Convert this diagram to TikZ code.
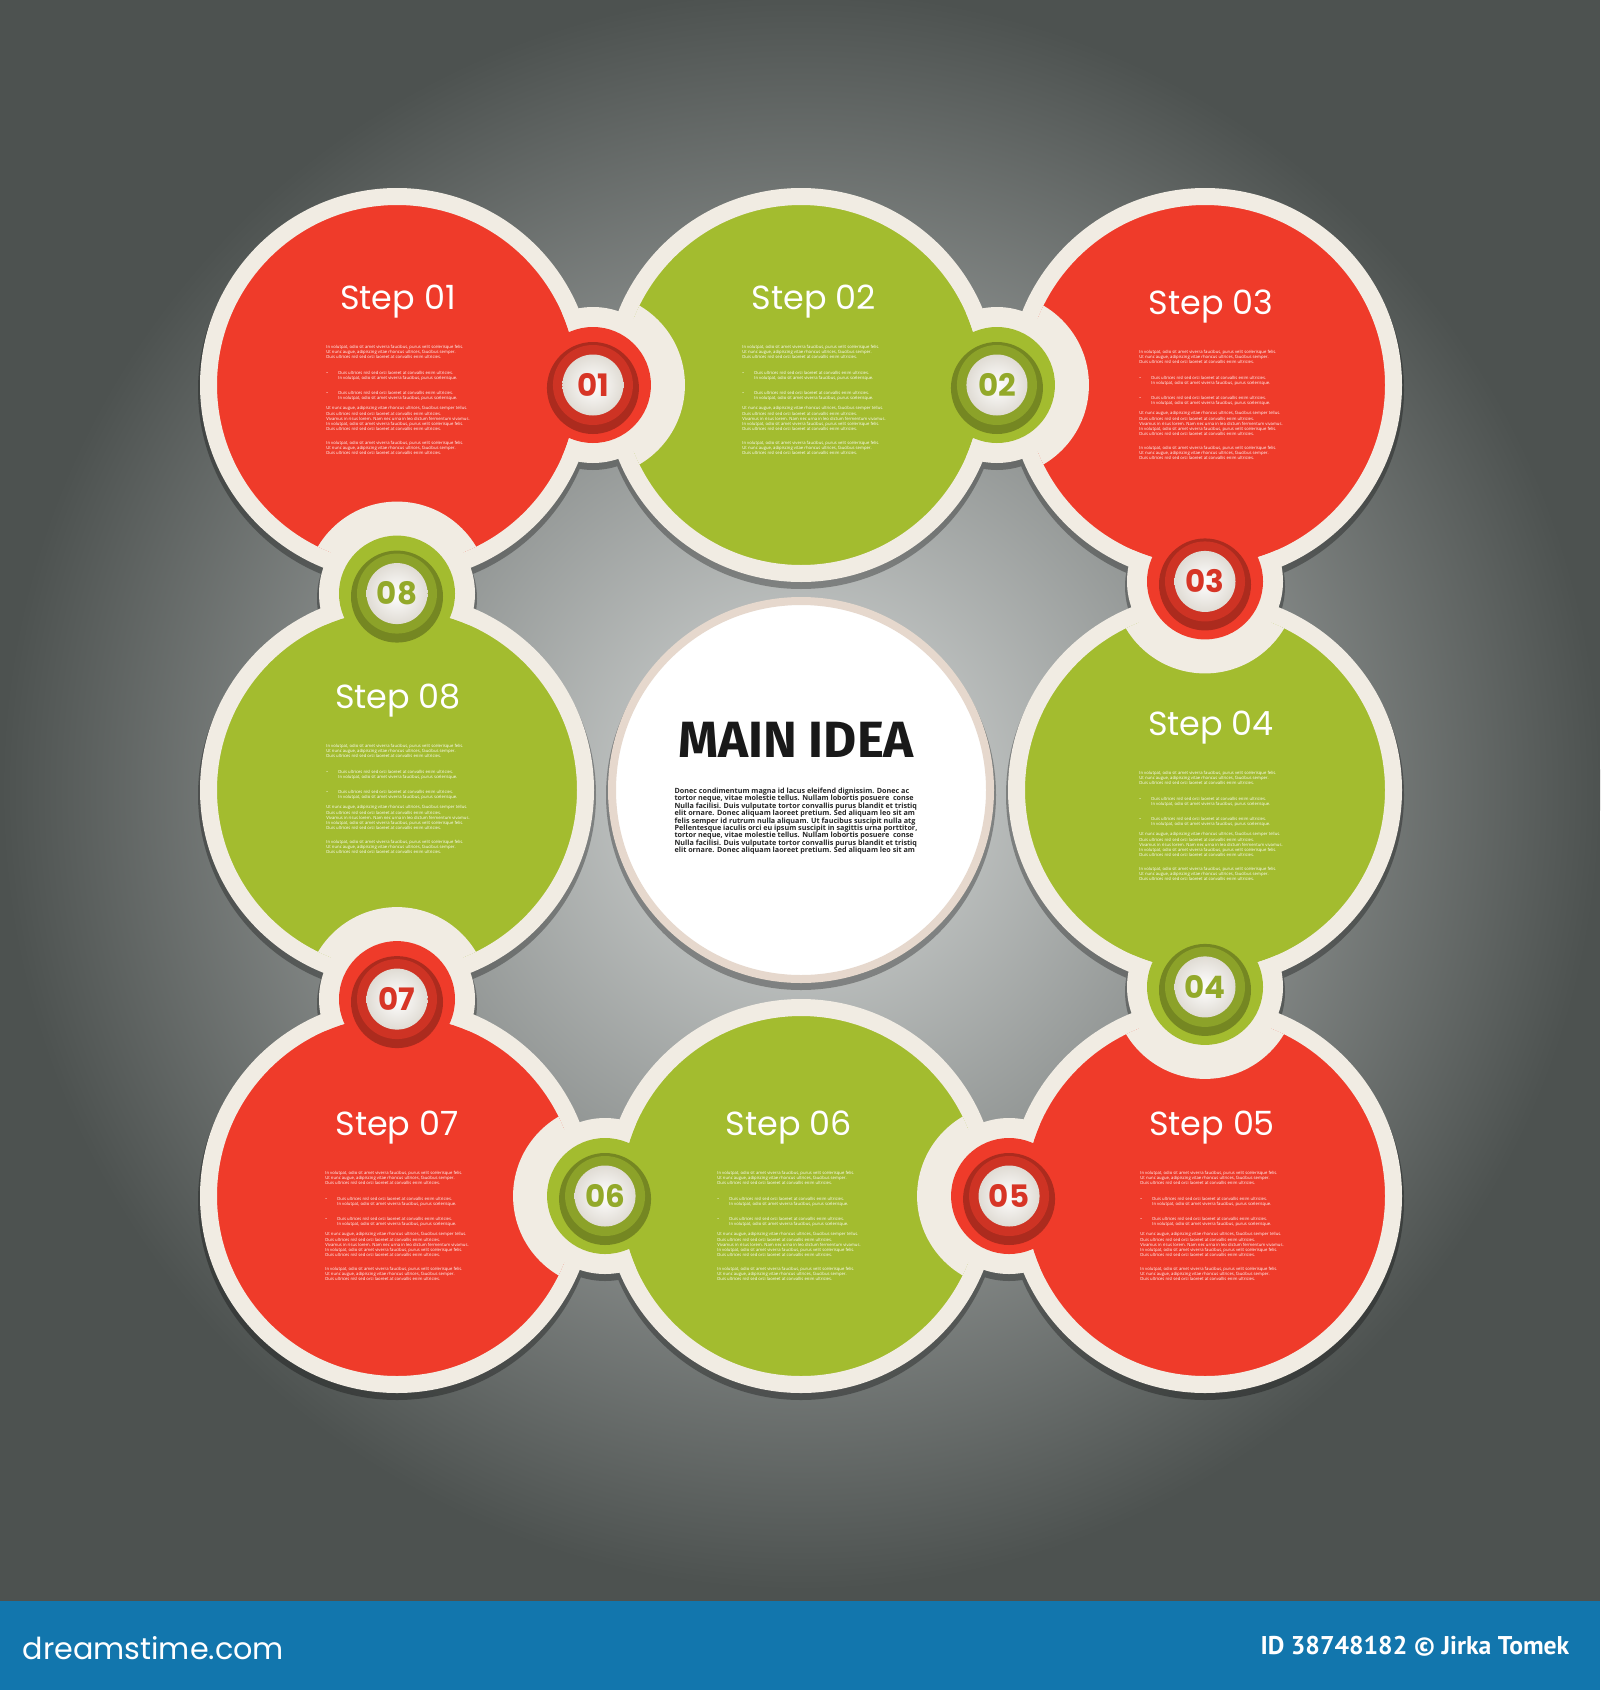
\documentclass[tikz,border=0pt]{standalone}
\usepackage{fontspec}
\setmainfont{Open Sans}
\newfontfamily\titlefont{Poppins}
\newfontfamily\ideafont{Fira Sans}
\newfontfamily\barfont{PT Sans}
\usetikzlibrary{positioning,calc}

\definecolor{bgdark}{HTML}{4D5250}
\definecolor{bglight}{HTML}{D9DCDB}
\definecolor{stepred}{HTML}{EF3B2A}
\definecolor{stepgreen}{HTML}{A3BC2F}
\definecolor{cream}{HTML}{F1ECE3}
\definecolor{rimbeige}{HTML}{E6D8CD}
\definecolor{barblue}{HTML}{1276AD}

\tikzset{
  stepdisc/.style={circle, minimum size=37.7mm, inner sep=0pt, draw=cream, line width=1.7mm},
  steptitle/.style={font=\titlefont\fontsize{9.5}{11}\selectfont, text=white, inner sep=0pt},
  stepbody/.style={font=\fontsize{1.2}{1.45}\selectfont, text=white, align=left, inner sep=0pt},
  badgecore/.style={circle, minimum size=6.1mm, inner sep=0pt, inner color=white, outer color=cream!85!gray, font=\titlefont\bfseries\fontsize{8.8}{9}\selectfont},
  shadowfill/.style={fill=black, opacity=.3},
}

% #1 name, #2 place, #3 owner, #4 neighbour, #5 colour, #6 number
\newcommand{\stepbadge}[6]{%
  \begin{scope}[even odd rule]
    \clip (0,0) rectangle (1600,1690) (#3.center) circle (18mm);
    \fill[cream] (#2) circle (7.8mm);
  \end{scope}
  \begin{scope}
    \clip (#4.center) circle (18mm);
    \fill[cream] (#2) circle (9.2mm);
  \end{scope}
  \fill[#5] (#2) circle (5.8mm);
  \fill[#5!72!black] ($(#2)+(0,3)$) circle (4.6mm);
  \fill[#5!86!black] (#2) circle (4.0mm);
  \node[badgecore, text=#5!90!black] (#1) at (#2) {#6};
}

\newcommand{\stepfiller}{%
In volutpat, odio sit amet viverra faucibus, purus velit scelerisque felis.\\
Ut nunc augue, adipiscing vitae rhoncus ultrices, faucibus semper.\\
Duis ultrices nisl sed orci laoreet at convallis enim ultricies.\\[1.1mm]
\makebox[1.2mm][l]{\textbullet}Duis ultrices nisl sed orci laoreet at convallis enim ultricies.\\
\hspace*{1.2mm}In volutpat, odio sit amet viverra faucibus, purus scelerisque.\\[1mm]
\makebox[1.2mm][l]{\textbullet}Duis ultrices nisl sed orci laoreet at convallis enim ultricies.\\
\hspace*{1.2mm}In volutpat, odio sit amet viverra faucibus, purus scelerisque.\\[0.5mm]
Ut nunc augue, adipiscing vitae rhoncus ultrices, faucibus semper tellus.\\
Duis ultrices nisl sed orci laoreet at convallis enim ultricies.\\
Vivamus in risus lorem. Nam nec urna in leo dictum fermentum vivamus.\\
In volutpat, odio sit amet viverra faucibus, purus velit scelerisque felis.\\
Duis ultrices nisl sed orci laoreet at convallis enim ultricies.\\[0.9mm]
In volutpat, odio sit amet viverra faucibus, purus velit scelerisque felis.\\
Ut nunc augue, adipiscing vitae rhoncus ultrices, faucibus semper.\\
Duis ultrices nisl sed orci laoreet at convallis enim ultricies.}

\begin{document}
\begin{tikzpicture}[x=0.1mm, y=-0.1mm]
  \useasboundingbox (0,0) rectangle (1600,1690);

  % Background
  \fill[bgdark] (0,0) rectangle (1600,1601);
  \begin{scope}
    \clip (0,0) rectangle (1600,1601);
    \shade[inner color=bglight, outer color=bgdark] (801,790) circle (80mm);
  \end{scope}

  % Centres
  \coordinate (c1) at (397,385);
  \coordinate (c2) at (801,385);
  \coordinate (c3) at (1205,385);
  \coordinate (c4) at (1205,790);
  \coordinate (c5) at (1205,1196);
  \coordinate (c6) at (801,1196);
  \coordinate (c7) at (397,1196);
  \coordinate (c8) at (397,790);
  \coordinate (c0) at (801,790);
  \coordinate (p1) at ($(c1)!0.485!(c2)$);
  \coordinate (p2) at ($(c2)!0.485!(c3)$);
  \coordinate (p3) at ($(c3)!0.485!(c4)$);
  \coordinate (p4) at ($(c4)!0.485!(c5)$);
  \coordinate (p5) at ($(c5)!0.485!(c6)$);
  \coordinate (p6) at ($(c6)!0.485!(c7)$);
  \coordinate (p7) at ($(c7)!0.485!(c8)$);
  \coordinate (p8) at ($(c8)!0.485!(c1)$);

  % Shadows
  \fill[shadowfill] ([yshift=-0.5mm]c1) circle (19.9mm) ([yshift=-0.5mm]c2) circle (19.9mm)
    ([yshift=-0.5mm]c3) circle (19.9mm) ([yshift=-0.5mm]c4) circle (19.9mm)
    ([yshift=-0.5mm]c5) circle (19.9mm) ([yshift=-0.5mm]c6) circle (19.9mm)
    ([yshift=-0.5mm]c7) circle (19.9mm) ([yshift=-0.5mm]c8) circle (19.9mm)
    ([yshift=-0.5mm]c0) circle (19.5mm)
    ([yshift=-0.5mm]p1) circle (8mm) ([yshift=-0.5mm]p2) circle (8mm)
    ([yshift=-0.5mm]p3) circle (8mm) ([yshift=-0.5mm]p4) circle (8mm)
    ([yshift=-0.5mm]p5) circle (8mm) ([yshift=-0.5mm]p6) circle (8mm)
    ([yshift=-0.5mm]p7) circle (8mm) ([yshift=-0.5mm]p8) circle (8mm);

  % Steps
  \node[stepdisc, fill=stepred] (s1) at (c1) {};
  \node[stepdisc, fill=stepgreen] (s2) at (c2) {};
  \node[stepdisc, fill=stepred] (s3) at (c3) {};
  \node[stepdisc, fill=stepgreen] (s4) at (c4) {};
  \node[stepdisc, fill=stepred] (s5) at (c5) {};
  \node[stepdisc, fill=stepgreen] (s6) at (c6) {};
  \node[stepdisc, fill=stepred] (s7) at (c7) {};
  \node[stepdisc, fill=stepgreen] (s8) at (c8) {};
  \node[circle, minimum size=37.8mm, inner sep=0pt, fill=white, draw=rimbeige, line width=0.8mm] (main) at (c0) {};

  % Badges
  \stepbadge{b1}{p1}{s1}{s2}{stepred}{01}
  \stepbadge{b2}{p2}{s2}{s3}{stepgreen}{02}
  \stepbadge{b3}{p3}{s3}{s4}{stepred}{03}
  \stepbadge{b4}{p4}{s4}{s5}{stepgreen}{04}
  \stepbadge{b5}{p5}{s5}{s6}{stepred}{05}
  \stepbadge{b6}{p6}{s6}{s7}{stepgreen}{06}
  \stepbadge{b7}{p7}{s7}{s8}{stepred}{07}
  \stepbadge{b8}{p8}{s8}{s1}{stepgreen}{08}

  % Texts
  \node[steptitle] (t1) at (398,302) {Step 01};
  \node[stepbody, below=2.5mm of t1] (d1) {\stepfiller};
  \node[steptitle] (t2) at (814,302) {Step 02};
  \node[stepbody, below=2.5mm of t2] (d2) {\stepfiller};
  \node[steptitle] (t3) at (1211,307) {Step 03};
  \node[stepbody, below=2.5mm of t3] (d3) {\stepfiller};
  \node[steptitle] (t4) at (1211,728) {Step 04};
  \node[stepbody, below=2.5mm of t4] (d4) {\stepfiller};
  \node[steptitle] (t5) at (1212,1128) {Step 05};
  \node[stepbody, below=2.5mm of t5] (d5) {\stepfiller};
  \node[steptitle] (t6) at (789,1128) {Step 06};
  \node[stepbody, below=2.5mm of t6] (d6) {\stepfiller};
  \node[steptitle] (t7) at (397,1128) {Step 07};
  \node[stepbody, below=2.5mm of t7] (d7) {\stepfiller};
  \node[steptitle] (t8) at (398,701) {Step 08};
  \node[stepbody, below=2.5mm of t8] (d8) {\stepfiller};

  \node[font=\ideafont\bfseries\fontsize{14.5}{16}\selectfont, text=black!90, inner sep=0pt] (idea) at (796,740) {MAIN IDEA};
  \node[font=\bfseries\fontsize{2.05}{2.1}\selectfont, text=black!85, align=left, inner sep=0pt, below=2.9mm of idea] (ideatext) {%
    Donec condimentum magna id lacus eleifend dignissim. Donec ac\\
    tortor neque, vitae molestie tellus. Nullam lobortis posuere\ \ conse\\
    Nulla facilisi. Duis vulputate tortor convallis purus blandit et tristiq\\
    elit ornare. Donec aliquam laoreet pretium. Sed aliquam leo sit am\\
    felis semper id rutrum nulla aliquam. Ut faucibus suscipit nulla atg\\
    Pellentesque iaculis orci eu ipsum suscipit in sagittis urna porttitor,\\
    tortor neque, vitae molestie tellus. Nullam lobortis posuere\ \ conse\\
    Nulla facilisi. Duis vulputate tortor convallis purus blandit et tristiq\\
    elit ornare. Donec aliquam laoreet pretium. Sed aliquam leo sit am};

  % Bottom bar
  \fill[barblue] (0,1601) rectangle (1600,1690);
  \node[font=\titlefont\fontsize{8.6}{10}\selectfont, text=white, anchor=west, inner sep=0pt] (site) at (22,1648) {dreamstime.com};
  \node[font=\barfont\bfseries\fontsize{7.3}{9}\selectfont, text=white, anchor=east, inner sep=0pt] (credit) at (1570,1646) {ID 38748182 © Jirka Tomek};
\end{tikzpicture}
\end{document}
